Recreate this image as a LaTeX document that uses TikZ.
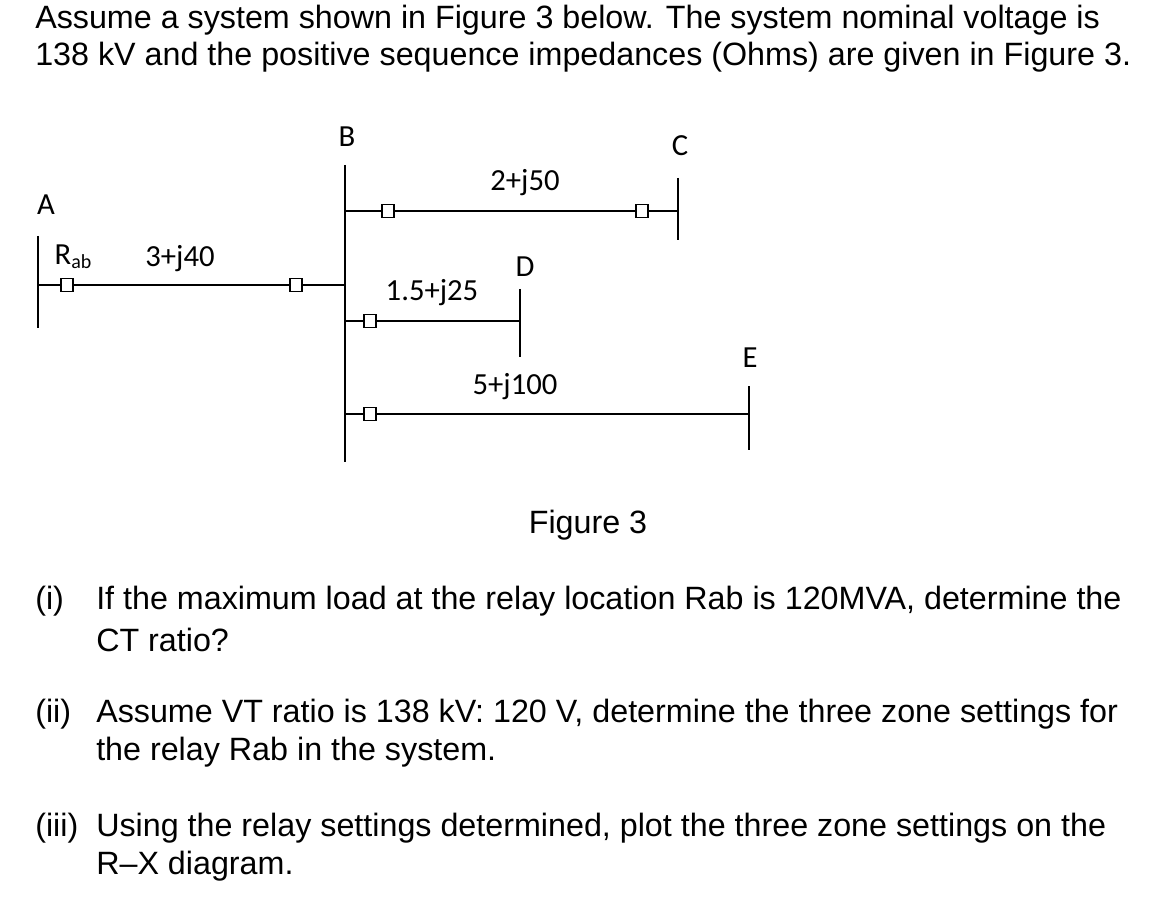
\documentclass[tikz,border=0pt]{standalone}
\usepackage{fontspec}
\setmainfont{Liberation Sans}
\newfontfamily\calib{Carlito}
\begin{document}
\begin{tikzpicture}[x=0.75pt,y=-0.75pt,
  txt/.style={anchor=west,inner sep=0pt,font=\fontsize{24.2}{28}\selectfont},
  lab/.style={inner sep=0pt,font=\calib\fontsize{23}{27}\selectfont},
  ln/.style={line width=1.3pt},
  ct/.style={draw,line width=1.1pt,fill=white,minimum width=9pt,minimum height=10pt,inner sep=0pt}]
\useasboundingbox (0,0) rectangle (1157,902);
\node[txt] (t1) at (35,20) {Assume a system shown in Figure 3 below. The system nominal voltage is};
\node[txt] (t2) at (35,57) {138 kV and the positive sequence impedances (Ohms) are given in Figure 3.};
% buses
\coordinate (A1) at (38,236); \coordinate (A2) at (38,328);
\coordinate (B1) at (345,165); \coordinate (B2) at (345,462);
\coordinate (C1) at (678,178); \coordinate (C2) at (678,240);
\coordinate (D1) at (520,289); \coordinate (D2) at (520,357);
\coordinate (E1) at (749,386); \coordinate (E2) at (749,450);
\draw[ln] (A1)--(A2) (B1)--(B2) (C1)--(C2) (D1)--(D2) (E1)--(E2);
\coordinate (ab0) at (38,285); \coordinate (ab1) at (345,285);
\coordinate (bc0) at (345,211); \coordinate (bc1) at (678,211);
\coordinate (bd0) at (345,321); \coordinate (bd1) at (520,321);
\coordinate (be0) at (345,414); \coordinate (be1) at (749,414);
\draw[ln] (ab0)--(ab1) (bc0)--(bc1) (bd0)--(bd1) (be0)--(be1);
\node[ct] (r1) at (67,285) {};
\node[ct] (r2) at (296,285) {};
\node[ct] (r3) at (388,211) {};
\node[ct] (r4) at (642,211) {};
\node[ct] (r5) at (370,321) {};
\node[ct] (r6) at (370,414) {};
\node[lab] (lA) at (46,205) {A};
\node[lab] (lB) at (347,137) {B};
\node[lab] (lC) at (680,146) {C};
\node[lab] (lD) at (525,267) {D};
\node[lab] (lE) at (750,358) {E};
\node[lab] (lR) at (73,257) {R\raisebox{-0.3ex}{\fontsize{15}{17}\selectfont ab}};
\node[lab] (z1) at (180,259) {3+j40};
\node[lab] (z2) at (525,183) {2+j50};
\node[lab] (z3) at (432,293) {1.5+j25};
\node[lab] (z4) at (515,387) {5+j100};
\node[txt,anchor=center] (fig) at (588,525) {Figure 3};
\node[txt] (i) at (35,601) {(i)};
\node[txt] (i1) at (96,601) {If the maximum load at the relay location Rab is 120MVA, determine the};
\node[txt] (i2) at (96,640) {CT ratio?};
\node[txt] (ii) at (35,714) {(ii)};
\node[txt] (ii1) at (96,714) {Assume VT ratio is 138 kV: 120 V, determine the three zone settings for};
\node[txt] (ii2) at (96,752) {the relay Rab in the system.};
\node[txt] (iii) at (35,828) {(iii)};
\node[txt] (iii1) at (96,828) {Using the relay settings determined, plot the three zone settings on the};
\node[txt] (iii2) at (96,866) {R--X diagram.};
\end{tikzpicture}
\end{document}
